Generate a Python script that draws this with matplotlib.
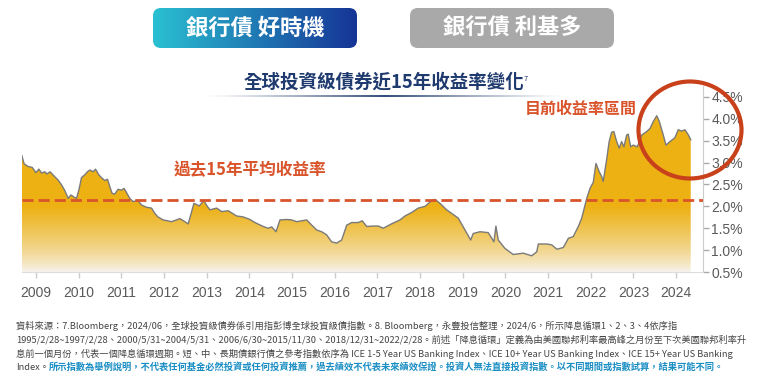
import numpy as np
import pandas as pd
import matplotlib
matplotlib.use("Agg")
import matplotlib.pyplot as plt
import matplotlib.dates as mdates
from matplotlib.patches import FancyBboxPatch, Ellipse
from matplotlib.collections import LineCollection

plt.rcParams['font.family'] = ['Noto Sans CJK TC', 'DejaVu Sans']

# ---------------- data ----------------
dates = [
    "2008-09-01", "2008-09-22", "2008-10-27", "2008-11-30", "2009-01-01", "2009-01-26",
    "2009-02-19", "2009-03-18", "2009-04-04", "2009-05-02", "2009-06-06", "2009-07-10",
    "2009-08-08", "2009-09-05", "2009-10-04", "2009-10-27", "2009-11-24", "2009-12-14",
    "2010-01-03", "2010-01-26", "2010-02-23", "2010-03-17", "2010-04-08", "2010-05-06",
    "2010-05-26", "2010-06-23", "2010-07-22", "2010-08-13", "2010-09-05", "2010-09-25",
    "2010-10-14", "2010-11-06", "2010-12-05", "2011-01-03", "2011-01-25", "2011-02-18",
    "2011-03-15", "2011-04-12", "2011-05-25", "2011-06-23", "2011-08-05", "2011-09-17",
    "2011-10-15", "2011-11-10", "2011-12-25", "2012-03-07", "2012-05-17", "2012-07-27",
    "2012-08-25", "2012-09-14", "2012-10-29", "2012-12-08", "2013-01-06", "2013-01-29",
    "2013-03-27", "2013-05-09", "2013-07-04", "2013-09-14", "2013-11-07", "2014-01-06",
    "2014-02-18", "2014-04-30", "2014-06-12", "2014-07-11", "2014-08-17", "2014-09-20",
    "2014-11-16", "2014-12-29", "2015-02-10", "2015-03-25", "2015-05-07", "2015-06-19",
    "2015-07-31", "2015-09-12", "2015-10-24", "2015-12-06", "2016-01-18", "2016-03-01",
    "2016-04-13", "2016-05-26", "2016-07-21", "2016-08-24", "2016-10-01", "2016-11-26",
    "2017-01-08", "2017-02-20", "2017-05-02", "2017-07-13", "2017-08-25", "2017-10-21",
    "2017-12-16", "2018-02-12", "2018-04-10", "2018-05-08", "2018-06-20", "2018-08-16",
    "2018-09-28", "2018-11-24", "2019-01-20", "2019-03-10", "2019-04-01", "2019-05-28",
    "2019-08-07", "2019-09-25", "2019-10-12", "2019-11-01", "2019-12-28", "2020-03-08",
    "2020-06-02", "2020-08-13", "2020-09-25", "2020-10-09", "2020-12-20", "2021-02-01",
    "2021-03-16", "2021-05-11", "2021-06-23", "2021-08-04", "2021-09-16", "2021-10-15",
    "2021-11-27", "2021-12-25", "2022-01-22", "2022-02-14", "2022-03-14", "2022-04-04",
    "2022-04-17", "2022-05-16", "2022-06-07", "2022-06-28", "2022-07-17", "2022-08-10",
    "2022-09-01", "2022-09-22", "2022-10-11", "2022-11-04", "2022-11-17", "2022-12-08",
    "2022-12-30", "2023-02-03", "2023-03-13", "2023-04-24", "2023-05-23", "2023-06-20",
    "2023-07-19", "2023-08-10", "2023-09-13", "2023-10-06", "2023-11-09", "2023-12-22",
    "2024-01-19", "2024-02-17", "2024-03-17", "2024-04-15", "2024-05-05",
]
yields = [
    3.17, 2.97, 2.91, 2.89, 2.77, 2.85,
    2.76, 2.79, 2.74, 2.79, 2.69, 2.60,
    2.49, 2.36, 2.18, 2.26, 2.21, 2.18,
    2.37, 2.66, 2.72, 2.79, 2.83, 2.79,
    2.85, 2.72, 2.64, 2.59, 2.62, 2.45,
    2.30, 2.28, 2.39, 2.37, 2.41, 2.30,
    2.18, 2.11, 2.13, 2.03, 1.98, 1.96,
    1.84, 1.76, 1.69, 1.65, 1.72, 1.60,
    1.88, 2.07, 2.01, 2.13, 2.00, 1.92,
    1.96, 1.88, 1.90, 1.78, 1.76, 1.70,
    1.63, 1.54, 1.50, 1.53, 1.42, 1.69,
    1.70, 1.69, 1.65, 1.67, 1.69, 1.57,
    1.46, 1.42, 1.35, 1.19, 1.16, 1.23,
    1.57, 1.63, 1.63, 1.67, 1.54, 1.55,
    1.55, 1.50, 1.60, 1.69, 1.78, 1.86,
    1.96, 2.00, 2.13, 2.16, 2.07, 1.92,
    1.84, 1.73, 1.46, 1.23, 1.38, 1.42,
    1.40, 1.19, 1.55, 1.23, 1.04, 0.90,
    0.93, 0.87, 0.96, 1.14, 1.14, 1.12,
    1.02, 1.06, 1.27, 1.31, 1.54, 1.73,
    2.18, 2.41, 2.55, 2.98, 2.79, 2.68,
    2.57, 3.06, 3.48, 3.69, 3.71, 3.48,
    3.33, 3.48, 3.36, 3.63, 3.65, 3.36,
    3.40, 3.36, 3.63, 3.71, 3.78, 3.94,
    4.07, 3.94, 3.63, 3.40, 3.48, 3.57,
    3.75, 3.72, 3.75, 3.63, 3.52,
]
avg_yield = 2.15
years = list(range(2009, 2025))
ytick_vals = [0.5, 1.0, 1.5, 2.0, 2.5, 3.0, 3.5, 4.0, 4.5]

title_text = "全球投資級債券近15年收益率變化"
btn1_text = "銀行債 好時機"
btn2_text = "銀行債 利基多"
avg_label = "過去15年平均收益率"
cur_label = "目前收益率區間"
foot_lines = [
    "資料來源：7.Bloomberg，2024/06，全球投資級債券係引用指彭博全球投資級債指數。8. Bloomberg，永豐投信整理，2024/6，所示降息循環1、2、3、4依序指",
    "1995/2/28~1997/2/28、2000/5/31~2004/5/31、2006/6/30~2015/11/30、2018/12/31~2022/2/28。前述「降息循環」定義為由美國聯邦利率最高峰之月份至下次美國聯邦利率升",
    "息前一個月份，代表一個降息循環週期。短、中、長期債銀行債之參考指數依序為 ICE 1-5 Year US Banking Index、ICE 10+ Year US Banking Index、ICE 15+ Year US Banking",
]
foot_last_a = "Index。"
foot_last_b = "所示指數為舉例說明，不代表任何基金必然投資或任何投資推薦，過去績效不代表未來績效保證。投資人無法直接投資指數。以不同期間或指數試算，結果可能不同。"

# ---------------- figure ----------------
W, H = 768, 379
fig = plt.figure(figsize=(W / 100, H / 100), dpi=100)
fig.patch.set_facecolor("white")

x = pd.to_datetime(dates)
xn = mdates.date2num(x)
x_right = mdates.date2num(pd.Timestamp("2024-08-18"))
ymin, ymax = 0.5, 4.75

ax = fig.add_axes([21.7 / W, (H - 272) / H, (703 - 21.7) / W, (272 - 86) / H])
ax.set_facecolor("none")

# gradient fill clipped by the area under the curve
gold = np.array([237, 177, 20]) / 255
pale = np.array([247, 245, 242]) / 255
yy = np.linspace(ymin, ymax, 400)
t = np.clip((yy - 0.5) / (2.0 - 0.5), 0, 1) ** 0.75
cols = pale[None, :] + (gold - pale)[None, :] * t[:, None]
img = np.repeat(cols[:, None, :], 2, axis=1)
poly = ax.fill_between(xn, yields, ymin, facecolor="none", edgecolor="none")
im = ax.imshow(img, extent=[xn[0], x_right, ymin, ymax], origin="lower",
               aspect="auto", zorder=1, interpolation="bilinear")
im.set_clip_path(poly.get_paths()[0], ax.transData)
ax.set_xlim(xn[0], x_right)
ax.set_ylim(ymin, ymax)

ax.plot(xn, yields, color="#7a7a7a", lw=1.0, zorder=3)
ax.axhline(avg_yield, color="#d9542b", lw=2.0, ls=(0, (4, 1.8)), zorder=4)

# axes styling
for s in ["top", "left"]:
    ax.spines[s].set_visible(False)
ax.spines["right"].set_color("#cccccc")
ax.spines["bottom"].set_color("#dddddd")
ax.yaxis.tick_right()
ax.set_yticks(ytick_vals)
ax.set_yticklabels([f"{v:.1f}%" for v in ytick_vals])
ax.set_xticks([mdates.date2num(pd.Timestamp(f"{y}-01-01")) for y in years])
ax.set_xticklabels([str(y) for y in years])
ax.tick_params(axis="y", length=4, width=1, color="#aaaaaa", pad=2,
               labelsize=10, labelcolor="#5a5a5a")
ax.tick_params(axis="x", length=4, width=1, color="#cccccc", pad=6,
               labelsize=10, labelcolor="#5a5a5a")
for lab in ax.get_xticklabels() + ax.get_yticklabels():
    lab.set_family(["Liberation Sans", "DejaVu Sans"])

ax.text(0.335, 0.55, avg_label, transform=ax.transAxes, ha="center", va="center",
        color="#d9542b", fontsize=12, fontweight="bold")
ax.text(0.821, 0.878, cur_label, transform=ax.transAxes, ha="center", va="center",
        color="#d9542b", fontsize=11.5, fontweight="bold")

# ---------------- decorations (pixel coords) ----------------
deco = fig.add_axes([0, 0, 1, 1], zorder=5)
deco.axis("off")

# button 1 with gradient
b1 = FancyBboxPatch((153, 8), 204, 40, boxstyle="round,pad=0,rounding_size=8",
                    facecolor="none", edgecolor="none")
deco.add_patch(b1)
c1 = np.array([42, 192, 210]) / 255
c2 = np.array([22, 52, 150]) / 255
gx = np.linspace(0, 1, 256)
grad = c1[None, :] + (c2 - c1)[None, :] * gx[:, None]
gimg = np.repeat(grad[None, :, :], 2, axis=0)
bim = deco.imshow(gimg, extent=[153, 357, 48, 8], aspect="auto", zorder=2)
bim.set_clip_path(b1)
deco.set_xlim(0, W)
deco.set_ylim(H, 0)
deco.text(255, 28, btn1_text, ha="center", va="center", color="white",
          fontsize=16, fontweight="bold", zorder=3)

b2 = FancyBboxPatch((410, 8), 204, 40, boxstyle="round,pad=0,rounding_size=8",
                    facecolor="#a9a9a9", edgecolor="none", zorder=2)
deco.add_patch(b2)
deco.text(512, 28, btn2_text, ha="center", va="center", color="white",
          fontsize=16, fontweight="bold", zorder=3)

# title + superscript
tt = deco.text(384, 82, title_text, ha="center", va="center", color="#1f3a6e",
               fontsize=13.3, fontweight="bold")
deco.annotate("7", xy=(1, 1), xycoords=tt, xytext=(-0.5, -2), textcoords="offset points",
              ha="left", va="top", fontsize=5.5, color="#1f3a6e")

# underline fading at ends
xs = np.linspace(205, 565, 200)
segs = [[(xs[i], 96), (xs[i + 1], 96)] for i in range(len(xs) - 1)]
mid = (xs[:-1] + xs[1:]) / 2
alpha = np.clip(1 - np.abs(mid - 385) / 180, 0, 1) ** 1.2
lc = LineCollection(segs, colors=[(0.12, 0.23, 0.43, a) for a in alpha], linewidths=1.3)
deco.add_collection(lc)

# circle
circ = Ellipse((690, 130), 103, 97, facecolor="none", edgecolor="#c8411b", lw=3.0, zorder=6)
deco.add_patch(circ)

# footnote
fs = 6.7
ys = [326, 340, 354]
for yv, line in zip(ys, foot_lines):
    deco.text(16, yv, line, ha="left", va="center", fontsize=fs, color="#444444")
ta = deco.text(16, 367, foot_last_a, ha="left", va="center", fontsize=fs, color="#444444")
deco.annotate(foot_last_b, xy=(1, 0.5), xycoords=ta, xytext=(0, 0), textcoords="offset points",
              ha="left", va="center", fontsize=fs, color="#1a8ec4", fontweight="bold")

deco.set_xlim(0, W)
deco.set_ylim(H, 0)
fig.savefig("out.png", dpi=100, facecolor="white")
